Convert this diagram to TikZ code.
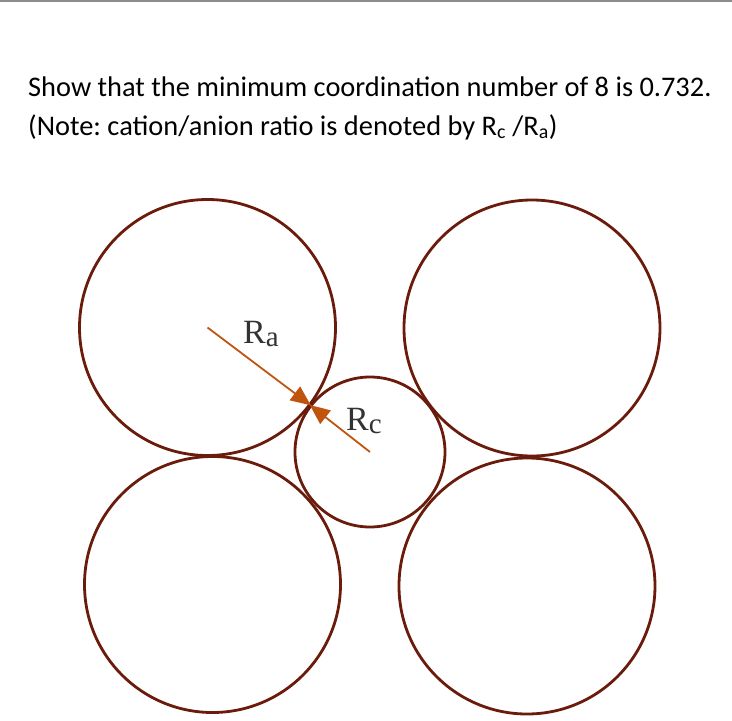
\documentclass[tikz,border=0pt]{standalone}
\usepackage{fontspec}
\setmainfont{Carlito}
\newfontfamily\labelfont{Liberation Serif}
\usetikzlibrary{arrows.meta}
\frenchspacing
\definecolor{ring}{HTML}{6A1B0B}
\definecolor{arrowc}{HTML}{C0540E}
\definecolor{labelc}{HTML}{333333}
\tikzset{
  ball/.style={circle, draw=ring, line width=2.8pt, inner sep=0pt, minimum size=#1},
  radius arrow/.style={draw=arrowc, line width=1.8pt, -{Triangle[length=20pt,width=17pt]}},
  rlabel/.style={text=labelc, inner sep=0pt, anchor=base west, font=\labelfont\fontsize{34}{34}\selectfont},
  qtext/.style={text=black, inner sep=0pt, anchor=base west, font=\fontsize{28.4}{32}\selectfont}
}
\begin{document}
\begin{tikzpicture}[x=1pt,y=-1pt]
\useasboundingbox (0,0) rectangle (732,721);
\draw[gray!90, line width=1.6pt] (0,0.8) -- (732,0.8);
\node[qtext] (q1) at (28,96) {Show that the minimum coordination number of 8 is 0.732.};
\node[qtext] (q2) at (28,135) {(Note: cation/anion ratio is denoted by R\textsubscript{c} /R\textsubscript{a})};
\node[ball=256pt] (tl) at (207.5,327.5) {};
\node[ball=256pt] (tr) at (532,328) {};
\node[ball=256pt] (bl) at (212.5,584.5) {};
\node[ball=256pt] (br) at (527,586) {};
\node[ball=150pt] (sc) at (370,452) {};
\coordinate (ta) at (tl.-37.5);
\coordinate (tc) at (sc.142.5);
\draw[radius arrow] (tl.center) -- (ta);
\draw[radius arrow] (sc.center) -- (tc);
\node[rlabel] (ra) at (243,343) {R\raisebox{-3pt}{\fontsize{29}{29}\selectfont a}};
\node[rlabel] (rc) at (346,430) {R\raisebox{-3pt}{\fontsize{29}{29}\selectfont c}};
\end{tikzpicture}
\end{document}
